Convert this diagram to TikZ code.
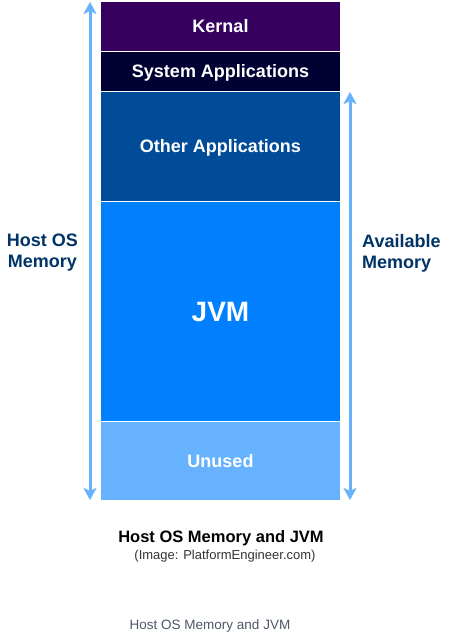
\documentclass[tikz,border=0pt]{standalone}
\usepackage{fontspec}
\setmainfont{Liberation Sans}
\usetikzlibrary{arrows.meta}
\definecolor{kern}{HTML}{36005F}
\definecolor{sysc}{HTML}{000033}
\definecolor{othc}{HTML}{004C99}
\definecolor{jvmc}{HTML}{007FFF}
\definecolor{unuc}{HTML}{66B2FF}
\definecolor{lbl}{HTML}{003366}
\definecolor{capg}{HTML}{333333}
\definecolor{foot}{HTML}{4D5766}
\tikzset{
  memblock/.style={rectangle, inner sep=0pt, minimum width=239pt, text=white, text height=12.9pt, text depth=0pt, font=\fontsize{18}{20}\selectfont\bfseries},
  memarrow/.style={draw=unuc, line width=3pt, {Stealth[length=12pt,width=13pt,inset=3pt]}-{Stealth[length=12pt,width=13pt,inset=3pt]}},
  sidelabel/.style={text=lbl, font=\fontsize{18}{21}\selectfont\bfseries, inner sep=0pt}
}
\begin{document}
\begin{tikzpicture}[x=1pt,y=-1pt]
\useasboundingbox (0,0) rectangle (452,640);
\node[memblock, fill=kern, minimum height=49pt] (kernal) at (220.5,26.5) {Kernal};
\node[memblock, fill=sysc, minimum height=39pt] (sysapp) at (220.5,71.5) {System Applications};
\node[memblock, fill=othc, minimum height=109pt] (othapp) at (220.5,146.5) {Other Applications};
\node[memblock, fill=jvmc, minimum height=219pt, text height=20pt, font=\fontsize{28}{30}\selectfont\bfseries] (jvm) at (220.5,311.5) {JVM};
\node[memblock, fill=unuc, minimum height=78pt] (unused) at (220.5,461) {Unused};
\coordinate (la) at (90,500);
\coordinate (lb) at (90,2);
\coordinate (ra) at (350,500);
\coordinate (rb) at (350,92);
\draw[memarrow] (la) -- (lb);
\draw[memarrow] (ra) -- (rb);
\node[sidelabel, align=center] (hostlbl) at (42.5,253) {Host OS\\Memory};
\node[sidelabel, align=left, anchor=west] (availlbl) at (362,253) {Available\\Memory};
\node[inner sep=0pt, font=\fontsize{16.5}{18}\selectfont\bfseries] (cap) at (221,538) {Host OS Memory and JVM};
\node[inner sep=0pt, text=capg, font=\fontsize{13}{15}\selectfont] (src) at (225,556) {(Image: PlatformEngineer.com)};
\node[inner sep=0pt, text=foot, font=\fontsize{13.5}{15}\selectfont] (foot) at (210,626) {Host OS Memory and JVM};
\end{tikzpicture}
\end{document}
